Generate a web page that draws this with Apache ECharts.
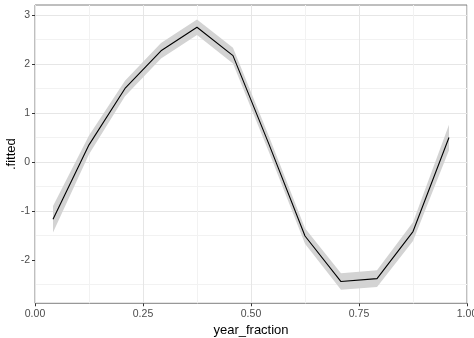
<!DOCTYPE html>
<html><head><meta charset="utf-8">
<script src="https://cdn.jsdelivr.net/npm/echarts@6/dist/echarts.min.js"></script>
<style>html,body{margin:0;padding:0;background:#fff}#c{width:474px;height:338px}</style>
</head><body><div id="c"></div>
<script>
// ---- data ----
const yearFraction = [0.0417, 0.125, 0.2083, 0.2917, 0.375, 0.4583, 0.5417, 0.625, 0.7083, 0.7917, 0.875, 0.9583];
const fitted = [-1.17, 0.35, 1.50, 2.27, 2.75, 2.17, 0.36, -1.51, -2.44, -2.38, -1.42, 0.50];
const lower  = [-1.44, 0.16, 1.34, 2.11, 2.59, 2.01, 0.20, -1.67, -2.61, -2.55, -1.61, 0.24];
const upper  = [-0.90, 0.54, 1.66, 2.43, 2.91, 2.33, 0.52, -1.35, -2.27, -2.21, -1.23, 0.76];
const xTickValues = [0, 0.25, 0.5, 0.75, 1];
const yTickValues = [-2, -1, 0, 1, 2, 3];

// ---- layout ----
const W = 474, H = 338;
const panelLeft = 35, panelRight = 467, panelTop = 5, panelBottom = 303.3;
const yMin = -2.884, yMax = 3.204;
const pxPerUnit = (panelBottom - panelTop) / (yMax - yMin);
const gridYTop = panelTop + (yMax - 3) * pxPerUnit;
const gridYBottom = panelBottom + (yMin - (-3)) * pxPerUnit; // position of -3

const bandRows = yearFraction.map((x, i) => [x, lower[i], upper[i]]);
const fitPts = yearFraction.map((x, i) => [x, fitted[i]]);

const font = 'Liberation Sans, Arial, sans-serif';
const labelColor = '#4d4d4d';
const chart = echarts.init(document.getElementById('c'), null, {renderer: 'canvas'});
chart.setOption({
  animation: false,
  backgroundColor: '#fff',
  grid: [
    { left: panelLeft, right: W - panelRight, top: panelTop, bottom: H - panelBottom,
      show: true, borderColor: '#7f7f7f', borderWidth: 1, backgroundColor: 'transparent',
      containLabel: false, outerBoundsMode: 'none' },
    { left: panelLeft, right: W - panelRight, top: gridYTop, bottom: H - gridYBottom,
      containLabel: false, outerBoundsMode: 'none' }
  ],
  xAxis: [
    { gridIndex: 0, type: 'value', min: 0, max: 1, interval: 0.25, position: 'bottom',
      axisLine: {show: false, onZero: false},
      axisTick: {show: true, length: 3, lineStyle: {color: '#333'}},
      axisLabel: {show: true, color: labelColor, fontSize: 10.5, fontFamily: font,
        margin: 5, showMinLabel: true, showMaxLabel: true, hideOverlap: false, formatter: v => v.toFixed(2)},
      splitLine: {show: true, lineStyle: {color: '#e6e6e6', width: 1}},
      minorTick: {show: false, splitNumber: 2},
      minorSplitLine: {show: true, lineStyle: {color: '#f2f2f2', width: 1}},
      name: 'year_fraction', nameLocation: 'middle', nameGap: 15,
      nameTextStyle: {color: '#000', fontSize: 13, fontFamily: font}
    },
    { gridIndex: 1, type: 'value', min: 0, max: 1, show: false, axisLine: {onZero: false} }
  ],
  yAxis: [
    { gridIndex: 0, type: 'value', min: yMin, max: yMax, position: 'left',
      axisLine: {show: false, onZero: false}, axisTick: {show: false}, axisLabel: {show: false},
      splitLine: {show: false},
      name: '.fitted', nameLocation: 'middle', nameGap: 17,
      nameTextStyle: {color: '#000', fontSize: 13, fontFamily: font}
    },
    { gridIndex: 1, type: 'value', min: -3, max: 3, interval: 1, position: 'left',
      axisLine: {show: false, onZero: false},
      axisTick: {show: true, length: 3, lineStyle: {color: '#333'}, customValues: yTickValues},
      axisLabel: {show: true, color: labelColor, fontSize: 10.5, fontFamily: font,
        margin: 5, customValues: yTickValues, formatter: v => (v === -3 ? '' : String(v))},
      splitLine: {show: true, showMinLine: false, lineStyle: {color: '#e6e6e6', width: 1}},
      minorTick: {show: false, splitNumber: 2},
      minorSplitLine: {show: true, lineStyle: {color: '#f2f2f2', width: 1}}
    }
  ],
  series: [
    { type: 'custom', xAxisIndex: 0, yAxisIndex: 0, data: bandRows, silent: true, z: 2,
      encode: {x: 0, y: [1, 2]},
      renderItem: function (params, api) {
        if (params.dataIndex !== 0) return null;
        const top = bandRows.map(r => api.coord([r[0], r[2]]));
        const bot = bandRows.slice().reverse().map(r => api.coord([r[0], r[1]]));
        return { type: 'polygon', shape: {points: top.concat(bot)},
                 style: {fill: '#d3d3d3', stroke: 'none'} };
      }
    },
    { type: 'line', xAxisIndex: 0, yAxisIndex: 0, data: fitPts, symbol: 'none',
      lineStyle: {color: '#000', width: 1.1}, z: 3 }
  ]
});
</script>
</body></html>
